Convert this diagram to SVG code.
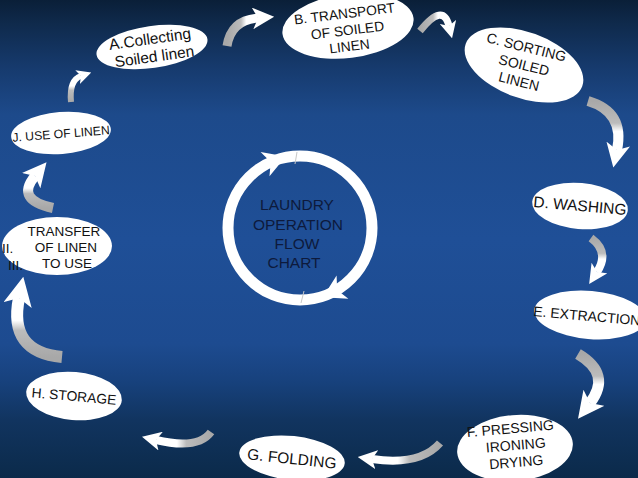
<svg xmlns="http://www.w3.org/2000/svg" width="638" height="478" viewBox="0 0 638 478">
<defs>
<linearGradient id="bg" x1="0" y1="0" x2="0" y2="1">
<stop offset="0" stop-color="#0a1f38"/>
<stop offset="0.05" stop-color="#0f2a4c"/>
<stop offset="0.14" stop-color="#163a6d"/>
<stop offset="0.24" stop-color="#1d4a8b"/>
<stop offset="0.5" stop-color="#1f4f97"/>
<stop offset="0.72" stop-color="#1d4b90"/>
<stop offset="0.8" stop-color="#17417c"/>
<stop offset="0.88" stop-color="#11345f"/>
<stop offset="1" stop-color="#0b2a4a"/>
</linearGradient>
<linearGradient id="gLR" x1="0" y1="0" x2="1" y2="0"><stop offset="0" stop-color="#a8a8a8"/><stop offset="0.45" stop-color="#bcbcbc"/><stop offset="0.62" stop-color="#fff"/></linearGradient>
<linearGradient id="gRL" x1="1" y1="0" x2="0" y2="0"><stop offset="0" stop-color="#a8a8a8"/><stop offset="0.45" stop-color="#bcbcbc"/><stop offset="0.62" stop-color="#fff"/></linearGradient>
<linearGradient id="gTB" x1="0" y1="0" x2="0" y2="1"><stop offset="0" stop-color="#a8a8a8"/><stop offset="0.45" stop-color="#bcbcbc"/><stop offset="0.62" stop-color="#fff"/></linearGradient>
<linearGradient id="gBT" x1="0" y1="1" x2="0" y2="0"><stop offset="0" stop-color="#a8a8a8"/><stop offset="0.45" stop-color="#bcbcbc"/><stop offset="0.62" stop-color="#fff"/></linearGradient>
<marker id="head" viewBox="0 0 10 10" refX="2.5" refY="5" markerWidth="2.4" markerHeight="2.4" orient="auto">
<path d="M0,0 L10,5 L0,10 L2.5,5 Z" fill="#fff"/>
</marker>
<polygon id="ringHead" points="-11,-13 11,0 -11,13 -5,0" fill="#fff"/>
<style>
.node ellipse{fill:#fff}
.lbl{font-family:"Liberation Sans",Arial,sans-serif;fill:#111;text-anchor:middle}
.conn path{fill:none;marker-end:url(#head)}
.ctr{font-family:"Liberation Sans",Arial,sans-serif;fill:#0d1a3c;text-anchor:middle;font-size:15.5px}
</style>
</defs>
<rect width="638" height="478" fill="url(#bg)"/>

<g id="connectors" class="conn">
<path d="M71,102 Q69,80 81,76" stroke="url(#gBT)" stroke-width="6"/>
<path d="M227,46 Q231,20 258,18" stroke="url(#gLR)" stroke-width="9"/>
<path d="M420,31 Q443,2 449,26" stroke="url(#gLR)" stroke-width="7"/>
<path d="M588,101 Q625,112 617,150" stroke="url(#gTB)" stroke-width="10"/>
<path d="M591,238 Q610,252 597,272" stroke="url(#gTB)" stroke-width="8"/>
<path d="M578,354 Q612,374 590,403" stroke="url(#gTB)" stroke-width="11"/>
<path d="M440,443 Q420,466 372,459" stroke="url(#gRL)" stroke-width="8"/>
<path d="M211,432 Q198,450 156,440" stroke="url(#gRL)" stroke-width="8"/>
<path d="M62,357 Q8,352 19,298" stroke="url(#gBT)" stroke-width="12"/>
<path d="M53,208 Q15,200 35,176" stroke="url(#gBT)" stroke-width="10"/>
</g>

<g id="center">
<circle cx="300" cy="228" r="72" fill="none" stroke="#fff" stroke-width="11"/>
<use href="#ringHead" transform="translate(300,228) rotate(250) translate(72,0) rotate(90)"/>
<use href="#ringHead" transform="translate(300,228) rotate(63) translate(72,0) rotate(90)"/>
<path d="M297,152 L295,164 M304,291 L301,303" stroke="#c8c8c8" stroke-width="1" fill="none"/>
<text class="ctr" x="297" y="210">LAUNDRY</text>
<text class="ctr" x="298" y="230">OPERATION</text>
<text class="ctr" x="297" y="249">FLOW</text>
<text class="ctr" x="294" y="268">CHART</text>
</g>

<g id="nA" class="node" transform="rotate(-8 152 47)">
<ellipse cx="152" cy="47" rx="56" ry="21"/>
<text class="lbl" x="151" y="44" font-size="15.5">A.Collecting</text>
<text class="lbl" x="153" y="62" font-size="15.5">Soiled linen</text>
</g>
<g id="nB" class="node" transform="rotate(-7 348 26)">
<ellipse cx="348" cy="26" rx="66" ry="32"/>
<text class="lbl" x="346" y="18" font-size="13.8">B. TRANSPORT</text>
<text class="lbl" x="347" y="35" font-size="13.8">OF SOILED</text>
<text class="lbl" x="347" y="51" font-size="13.8">LINEN</text>
</g>
<g id="nC" class="node">
<ellipse cx="524" cy="65" rx="62" ry="33" transform="rotate(20 524 65)"/>
<g transform="rotate(14 524 65)">
<text class="lbl" x="522" y="52" font-size="14">C. SORTING</text>
<text class="lbl" x="524" y="70" font-size="14">SOILED</text>
<text class="lbl" x="523" y="87" font-size="14">LINEN</text>
</g>
</g>
<g id="nD" class="node" transform="rotate(5 580 206)">
<ellipse cx="580" cy="206" rx="48" ry="23"/>
<text class="lbl" x="580" y="211" font-size="15.5">D. WASHING</text>
</g>
<g id="nE" class="node" transform="rotate(5 590 315)">
<ellipse cx="590" cy="315" rx="56" ry="24"/>
<text class="lbl" x="587" y="321" font-size="14">E. EXTRACTION</text>
</g>
<g id="nF" class="node" transform="rotate(-5 515 448)">
<ellipse cx="515" cy="448" rx="58" ry="33"/>
<text class="lbl" x="512" y="433" font-size="14">F. PRESSING</text>
<text class="lbl" x="516" y="450" font-size="14">IRONING</text>
<text class="lbl" x="515" y="467" font-size="14">DRYING</text>
</g>
<g id="nG" class="node" transform="rotate(6 292 458)">
<ellipse cx="292" cy="458" rx="53" ry="22"/>
<text class="lbl" x="292" y="464" font-size="15.5">G. FOLDING</text>
</g>
<g id="nH" class="node" transform="rotate(5 74 396)">
<ellipse cx="74" cy="396" rx="48" ry="24"/>
<text class="lbl" x="74" y="401" font-size="13.8">H. STORAGE</text>
</g>
<g id="nI" class="node">
<ellipse cx="57" cy="246" rx="55" ry="29"/>
<text class="lbl" x="64" y="236" font-size="13.5">TRANSFER</text>
<text class="lbl" x="66" y="252" font-size="13.5">OF LINEN</text>
<text class="lbl" x="67" y="268" font-size="13.5">TO USE</text>
<text class="lbl" x="2" y="253" font-size="13.5" style="text-anchor:start">II.</text>
<text class="lbl" x="8" y="270" font-size="13.5" style="text-anchor:start">III.</text>
</g>
<g id="nJ" class="node" transform="rotate(-4.5 61 133)">
<ellipse cx="61" cy="133" rx="50" ry="21"/>
<text class="lbl" x="61" y="138" font-size="12.2">J. USE OF LINEN</text>
</g>
</svg>
